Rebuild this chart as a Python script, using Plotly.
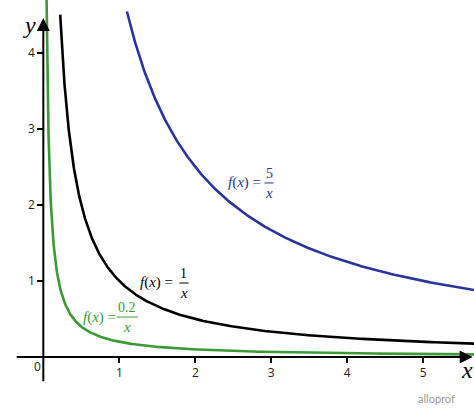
import numpy as np
import plotly.graph_objects as go

# chart data: f(x) = k / x
coefs = [0.2, 1, 5]
colors = ["#3a9a35", "#000000", "#2b339c"]
x_starts = [0.0415, 0.222, 1.1]
x_end = 5.67
numerators = ["0.2", "1", "5"]
x_ticks = [1, 2, 3, 4, 5]
y_ticks = [1, 2, 3, 4]

x_range = [-0.57, 5.667]
y_range = [-0.789, 4.697]

# label anchors (data units): where "f(x) =" sits, and the fraction column
label_pos = [(0.74, 0.526, 1.105), (1.49, 0.974, 1.851), (2.647, 2.29, 2.97)]

fig = go.Figure()

for k, col, x0 in zip(coefs, colors, x_starts):
    xs = np.geomspace(x0, x_end, 400)
    fig.add_trace(go.Scatter(
        x=xs, y=k / xs, mode="lines",
        line=dict(color=col, width=2.6),
        hoverinfo="skip"
    ))

serif = "Liberation Serif"
annotations = []
shapes = []
for (lx, ly, fx), num, col in zip(label_pos, numerators, colors):
    annotations.append(dict(
        x=lx, y=ly, text="<i>f</i>(<i>x</i>) =", showarrow=False,
        font=dict(family=serif, size=15, color=col), xanchor="center", yanchor="middle"
    ))
    annotations.append(dict(
        x=fx, y=ly + 0.125, text=num, showarrow=False,
        font=dict(family=serif, size=14, color=col), xanchor="center", yanchor="middle"
    ))
    annotations.append(dict(
        x=fx, y=ly - 0.13, text="<i>x</i>", showarrow=False,
        font=dict(family=serif, size=15, color=col), xanchor="center", yanchor="middle"
    ))
    half = 0.06 + 0.04 * (len(num) - 1)
    shapes.append(dict(
        type="line", xref="x", yref="y", x0=fx - half, x1=fx + half, y0=ly, y1=ly,
        line=dict(color=col, width=1)
    ))

# axis lines with arrows
annotations.append(dict(
    x=5.65, y=0, ax=-0.37, ay=0, xref="x", yref="y", axref="x", ayref="y",
    text="", showarrow=True, arrowhead=2, arrowsize=1.3, arrowwidth=2, arrowcolor="black"
))
annotations.append(dict(
    x=0, y=4.46, ax=0, ay=-0.34, xref="x", yref="y", axref="x", ayref="y",
    text="", showarrow=True, arrowhead=2, arrowsize=1.3, arrowwidth=2, arrowcolor="black"
))

# axis names, origin label, watermark
annotations += [
    dict(x=-0.18, y=4.37, text="<i>y</i>", showarrow=False,
         font=dict(family=serif, size=24, color="black")),
    dict(x=5.57, y=-0.17, text="<i>x</i>", showarrow=False,
         font=dict(family=serif, size=24, color="black")),
    dict(x=-0.08, y=-0.12, text="0", showarrow=False,
         font=dict(family="Open Sans", size=12, color="#222")),
    dict(x=5.18, y=-0.54, text="alloprof", showarrow=False,
         font=dict(family="Lato", size=11, color="#999")),
]

x_pos = (0 - y_range[0]) / (y_range[1] - y_range[0])
y_pos = (0 - x_range[0]) / (x_range[1] - x_range[0])

fig.update_layout(
    width=474, height=417,
    margin=dict(l=0, r=0, t=0, b=0),
    paper_bgcolor="white", plot_bgcolor="white",
    showlegend=False,
    xaxis=dict(
        range=x_range, anchor="free", position=x_pos,
        showgrid=False, zeroline=False, showline=False,
        tickvals=x_ticks, ticks="outside", ticklen=5, tickwidth=1.5, tickcolor="black",
        tickfont=dict(family="Open Sans", size=12, color="#222"),
    ),
    yaxis=dict(
        range=y_range, anchor="free", position=y_pos,
        showgrid=False, zeroline=False, showline=False,
        tickvals=y_ticks, ticks="outside", ticklen=6, tickwidth=1.5, tickcolor="black",
        tickfont=dict(family="Open Sans", size=12, color="#222"),
    ),
    annotations=annotations,
    shapes=shapes,
)

# drop the default page margin so the figure sits at the window's corner
fig.write_html("out.html", config={"displayModeBar": False},
               post_script="document.body.style.margin='0';")
